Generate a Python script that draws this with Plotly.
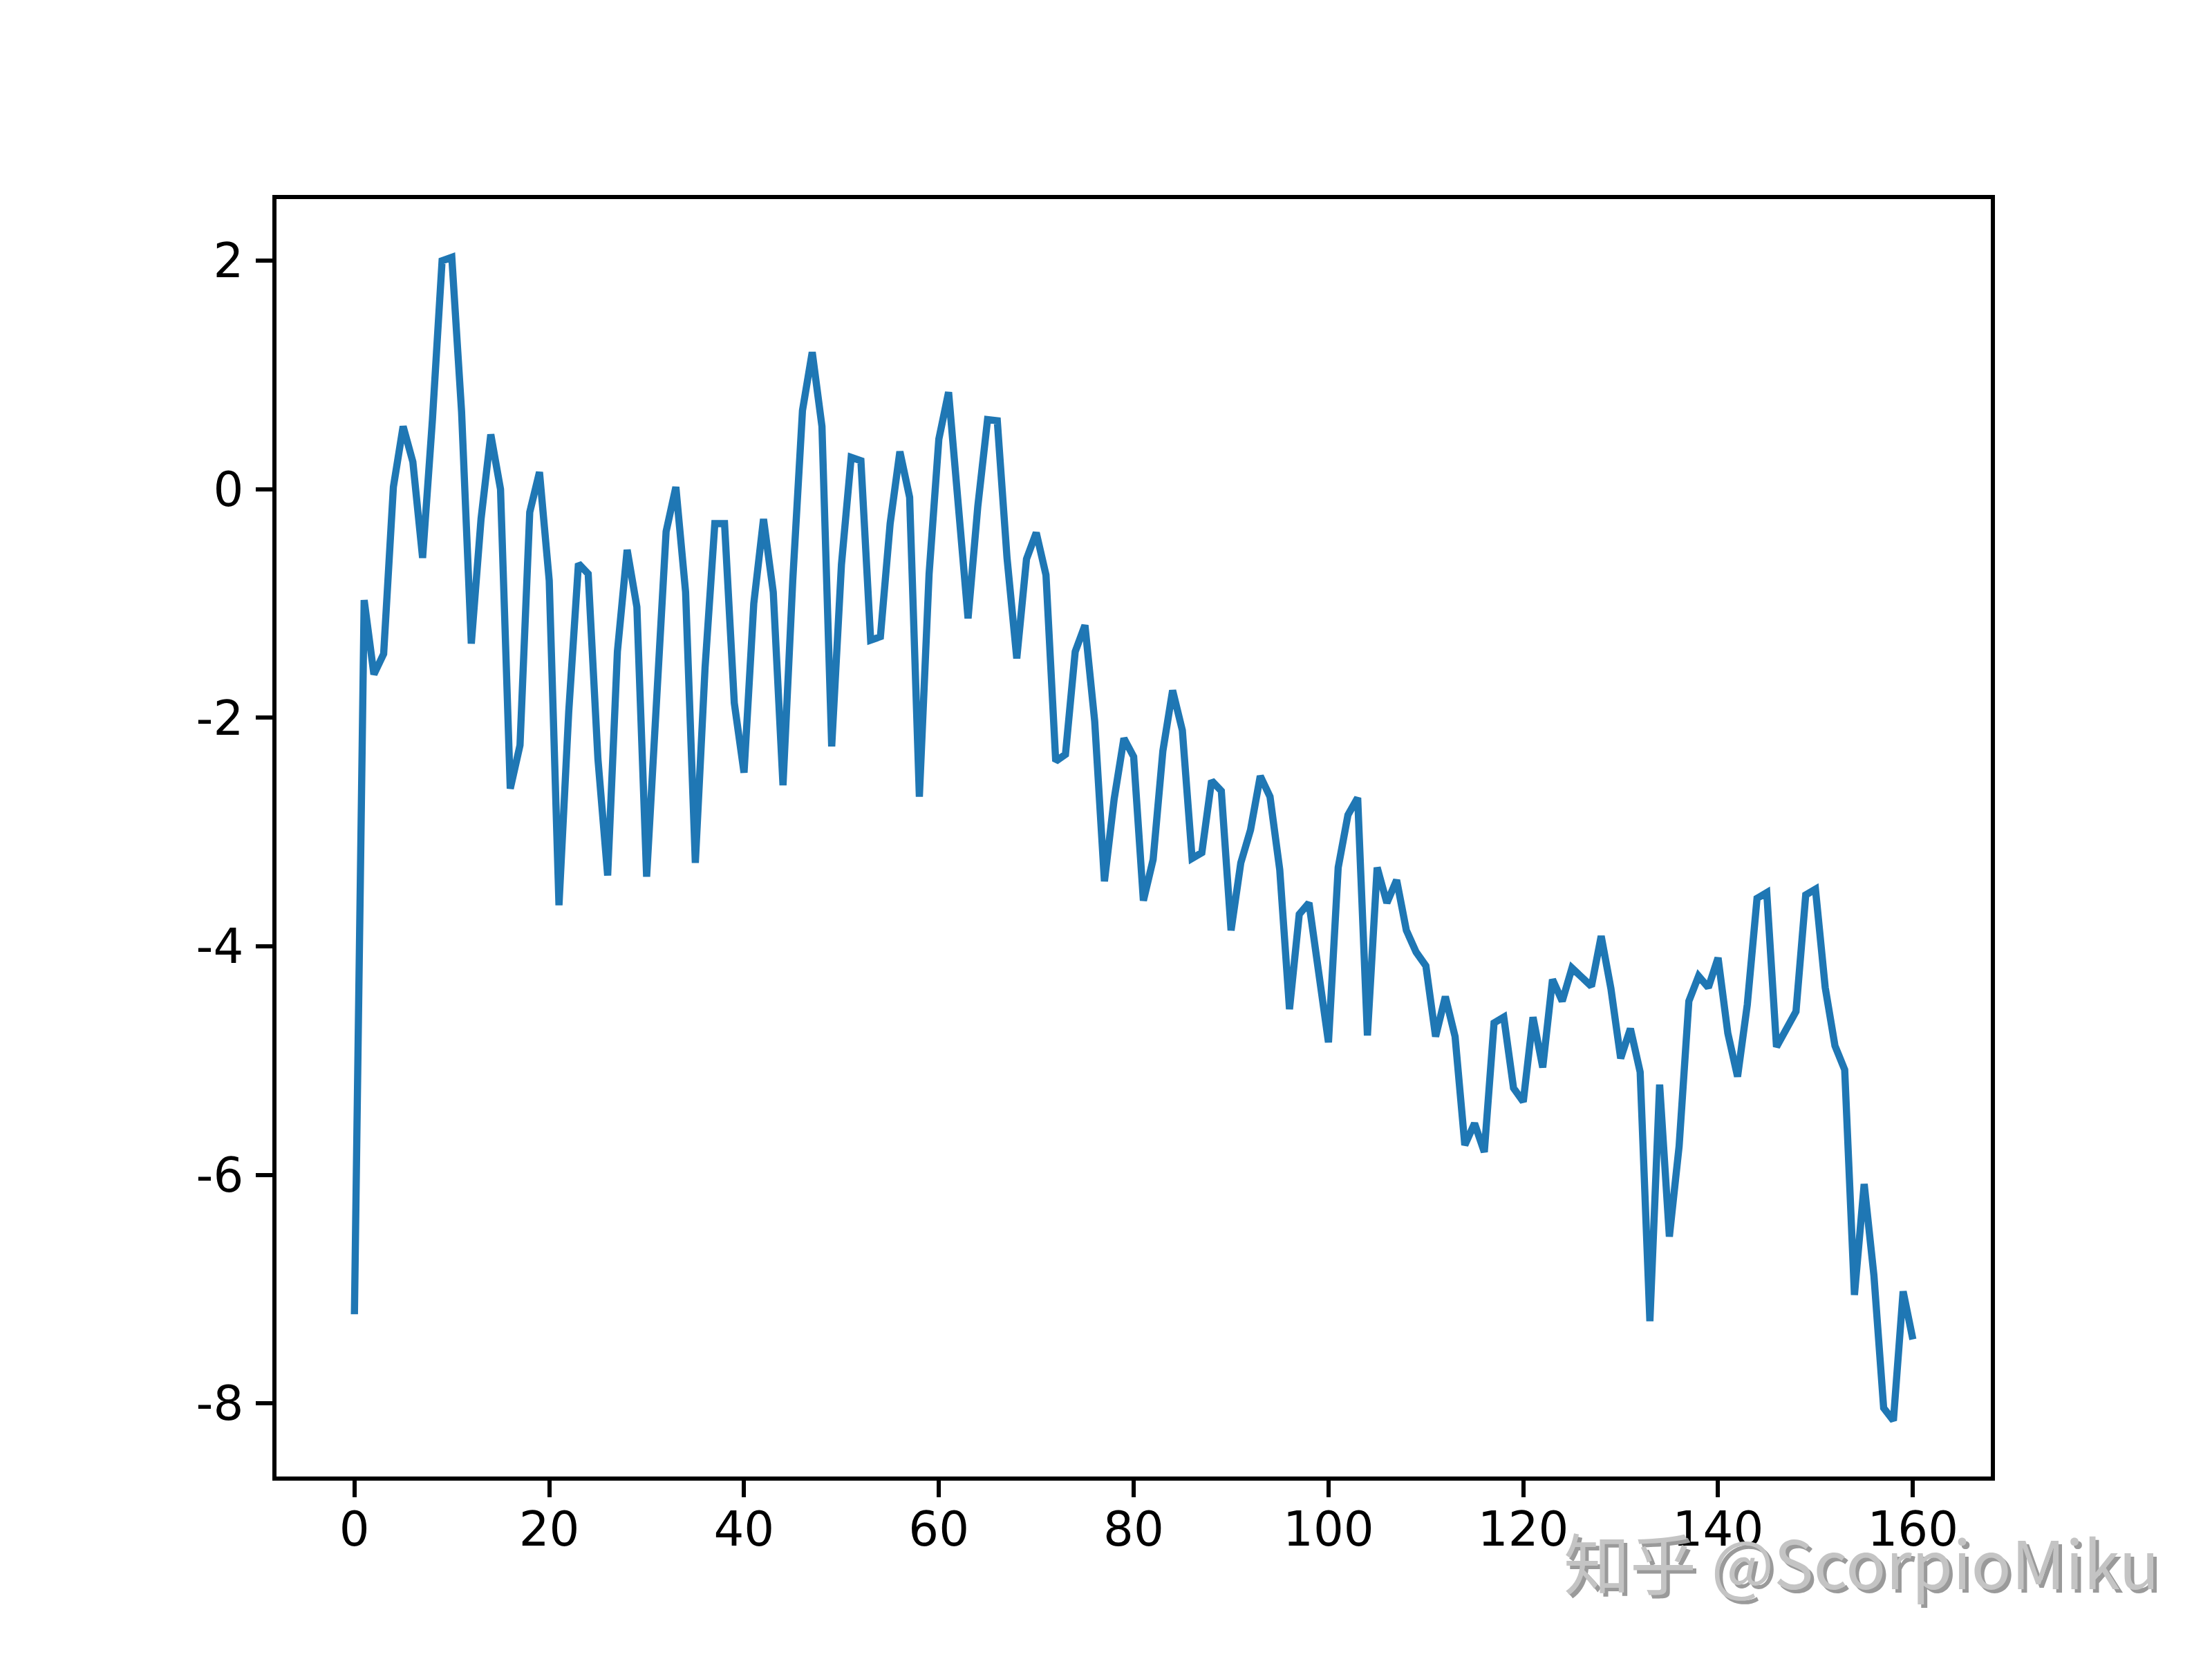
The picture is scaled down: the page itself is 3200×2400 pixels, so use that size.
import plotly.graph_objects as go

# series, one value per step 0..160
steps = list(range(161))
values = [
    -7.22, -0.97, -1.62, -1.44, 0.02, 0.55, 0.24, -0.60, 0.60, 2.00,
    2.03, 0.68, -1.35, -0.26, 0.48, 0.00, -2.62, -2.24, -0.20, 0.15,
    -0.80, -3.64, -1.95, -0.65, -0.74, -2.36, -3.38, -1.42, -0.53, -1.03,
    -3.39, -1.90, -0.37, 0.02, -0.90, -3.27, -1.56, -0.30, -0.30, -1.87,
    -2.48, -1.00, -0.26, -0.90, -2.59, -0.80, 0.69, 1.20, 0.55, -2.25,
    -0.66, 0.28, 0.25, -1.32, -1.29, -0.30, 0.33, -0.07, -2.69, -0.74,
    0.44, 0.85, -0.14, -1.13, -0.15, 0.61, 0.60, -0.60, -1.48, -0.61,
    -0.38, -0.75, -2.38, -2.32, -1.42, -1.19, -2.03, -3.43, -2.71, -2.18,
    -2.34, -3.60, -3.24, -2.29, -1.76, -2.11, -3.23, -3.18, -2.55, -2.64,
    -3.86, -3.27, -2.98, -2.51, -2.69, -3.33, -4.55, -3.72, -3.62, -4.20,
    -4.84, -3.31, -2.85, -2.70, -4.78, -3.31, -3.62, -3.42, -3.86, -4.05,
    -4.17, -4.79, -4.44, -4.79, -5.74, -5.55, -5.80, -4.67, -4.62, -5.24,
    -5.36, -4.62, -5.06, -4.29, -4.48, -4.19, -4.27, -4.35, -3.91, -4.37,
    -4.98, -4.72, -5.10, -7.28, -5.21, -6.54, -5.75, -4.48, -4.26, -4.36,
    -4.10, -4.76, -5.14, -4.51, -3.58, -3.53, -4.88, -4.72, -4.57, -3.55,
    -3.50, -4.36, -4.87, -5.08, -7.05, -6.08, -6.88, -8.04, -8.15, -7.02,
    -7.44,
]

x_ticks = [0, 20, 40, 60, 80, 100, 120, 140, 160]
y_ticks = [-8, -6, -4, -2, 0, 2]
y_tick_labels = ["-8", "-6", "-4", "-2", "0", "2"]
watermark = "知乎 @ScorpioMiku"

fig = go.Figure()
fig.add_trace(
    go.Scatter(
        x=steps,
        y=values,
        mode="lines",
        line={"color": "#1f77b4", "width": 10.4},
        showlegend=False,
    )
)

axis_style = {
    "showline": True,
    "linecolor": "black",
    "linewidth": 5.6,
    "mirror": True,
    "ticks": "outside",
    "ticklen": 24,
    "tickwidth": 5.6,
    "tickcolor": "black",
    "showgrid": False,
    "zeroline": False,
    "tickfont": {"family": "DejaVu Sans", "size": 69, "color": "black"},
}

# the page body adds an 8px offset, so margins are trimmed to match
fig.update_layout(
    width=3200,
    height=2400,
    margin={"l": 392, "r": 328, "t": 280, "b": 272},
    paper_bgcolor="white",
    plot_bgcolor="white",
    xaxis={
        **axis_style,
        "range": [-8, 168],
        "tickvals": x_ticks,
        "ticklabelstandoff": -13,
    },
    yaxis={
        **axis_style,
        "range": [-8.64, 2.54],
        "tickvals": y_ticks,
        "ticktext": y_tick_labels,
        "ticklabelstandoff": 4,
    },
)

# watermark: darker shadow under a light gray layer
for dx, dy, color in [(5, -5, "#9a9a9a"), (0, 0, "#c4c4c4")]:
    fig.add_annotation(
        text=watermark,
        xref="paper",
        yref="paper",
        x=1.0,
        y=-0.066,
        xanchor="right",
        yanchor="middle",
        xshift=246 + dx,
        yshift=dy,
        showarrow=False,
        font={"family": "Noto Sans CJK SC", "size": 96, "color": color},
    )

fig.write_html("out.html")
